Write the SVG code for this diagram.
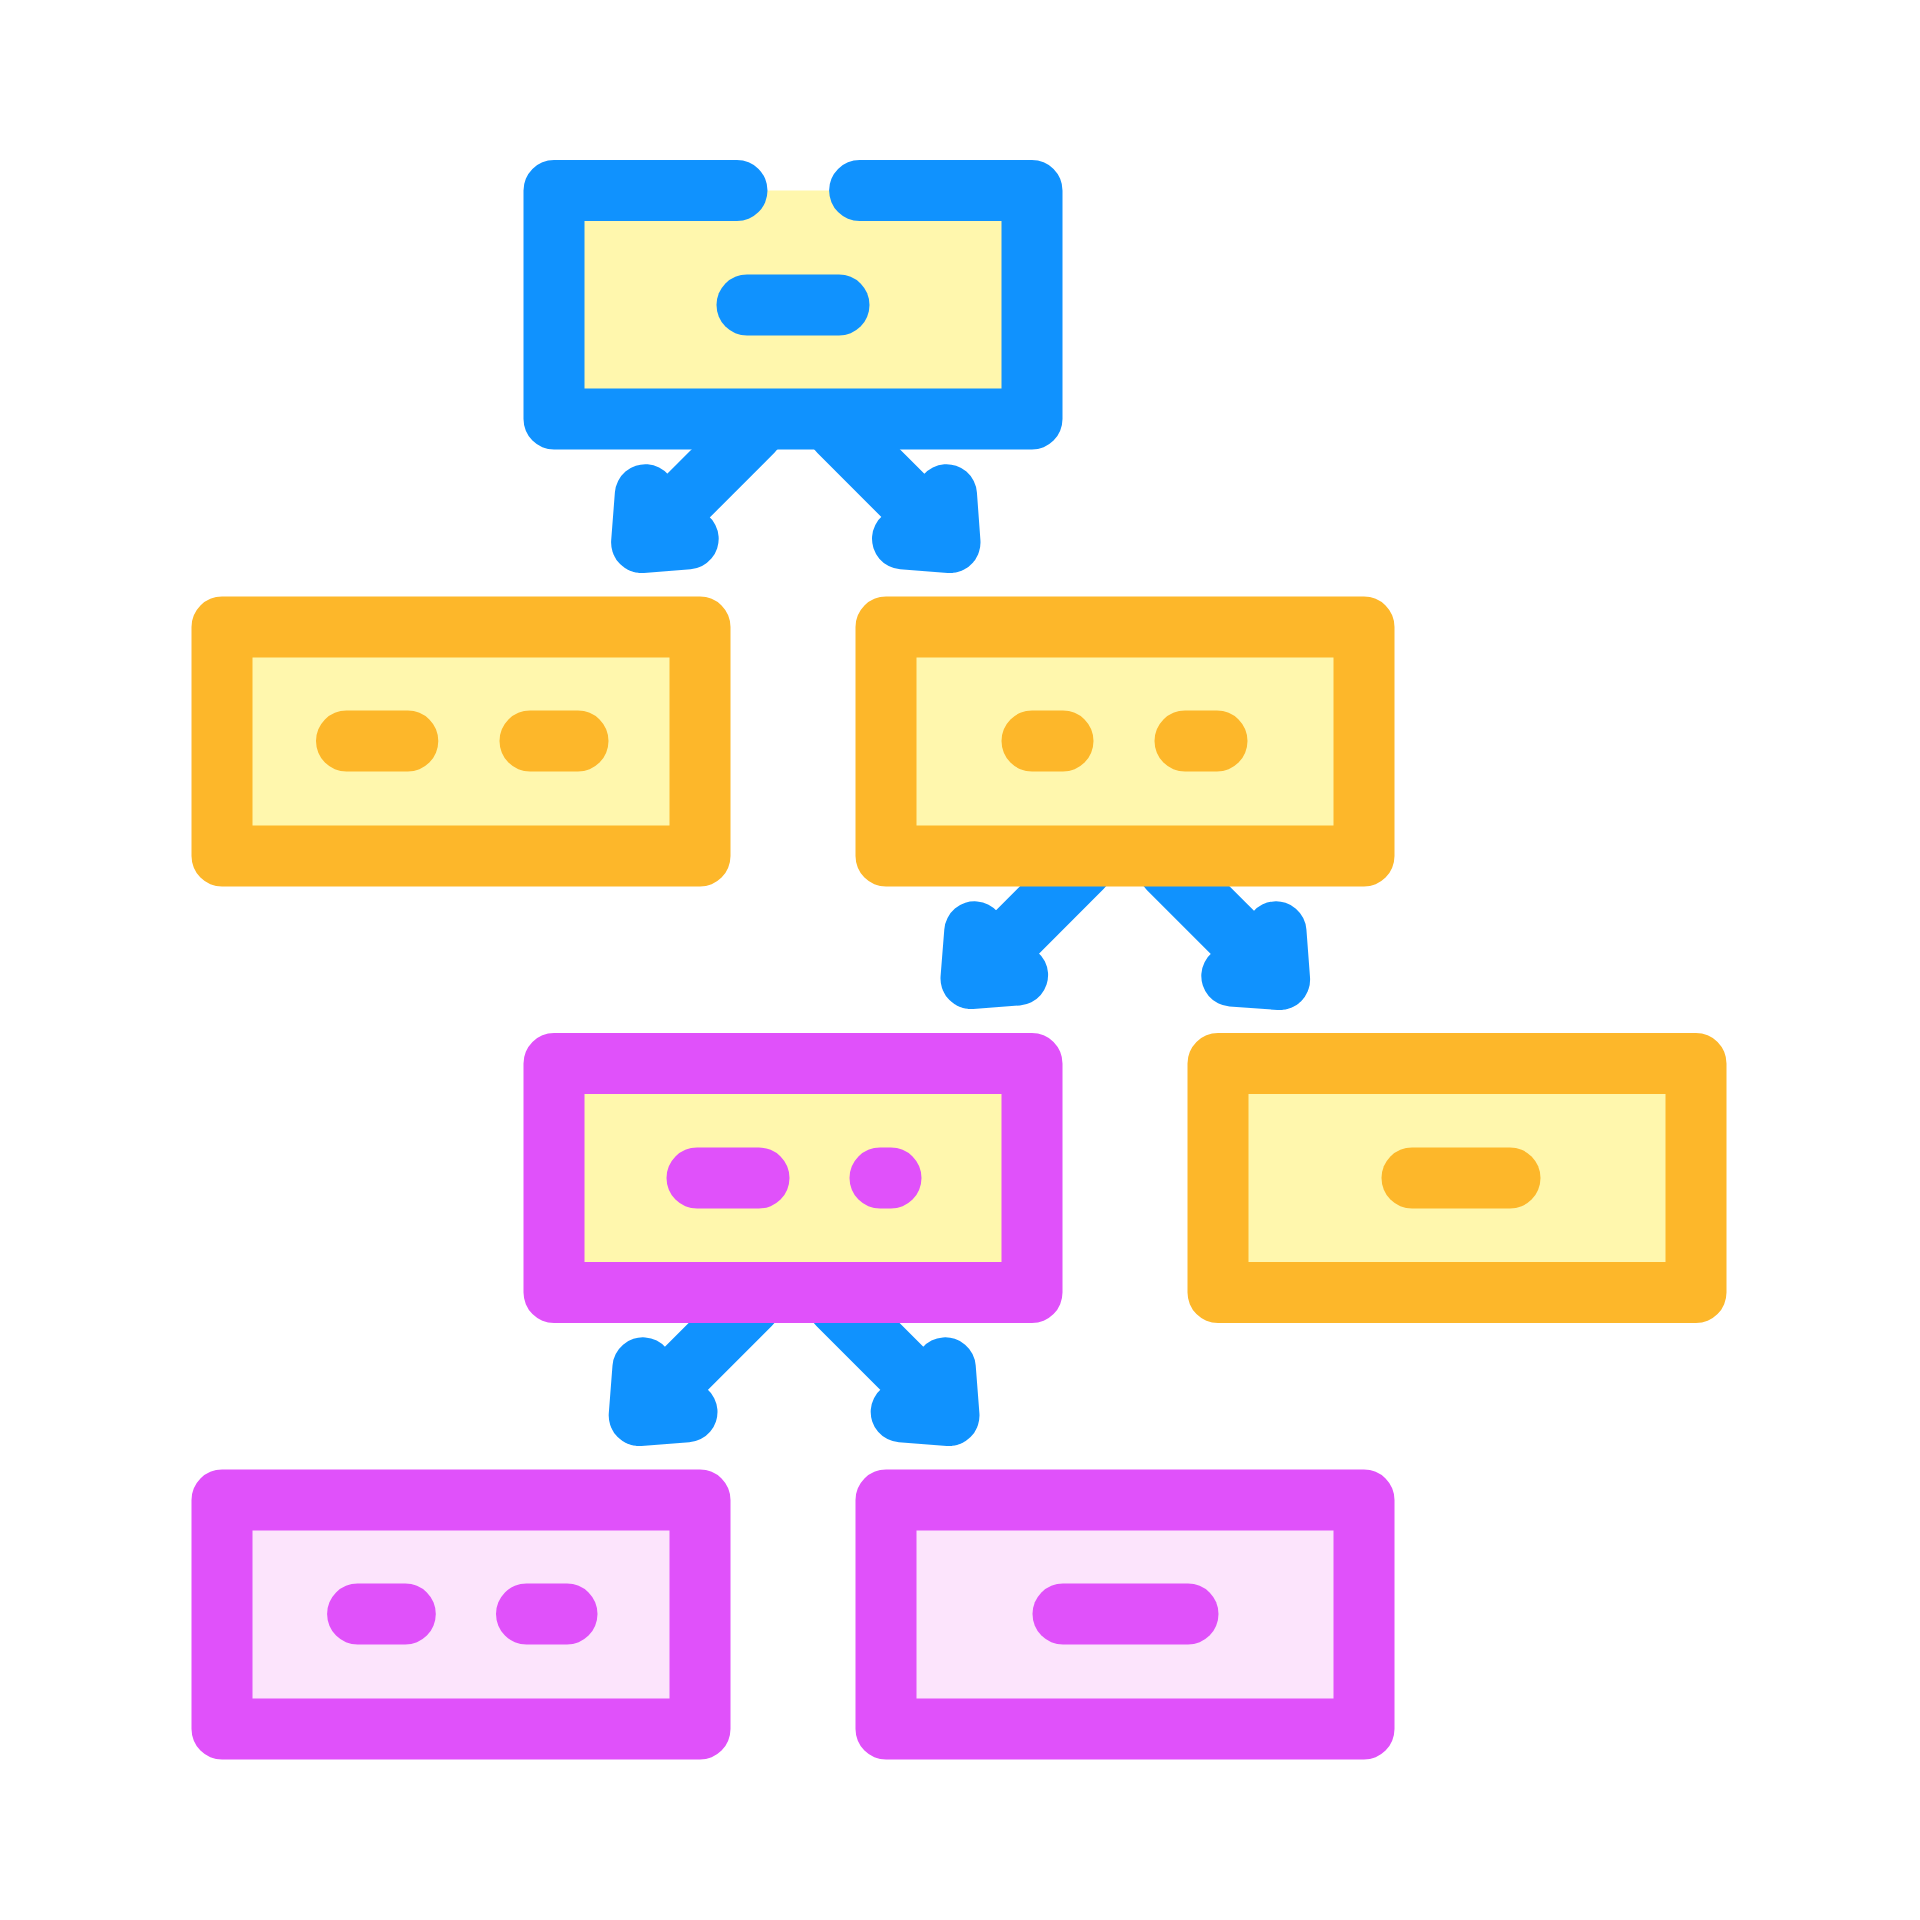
<svg xmlns="http://www.w3.org/2000/svg" width="1920" height="1920" viewBox="0 0 1920 1920">
<style>
.s{fill:none;stroke-width:61;stroke-linecap:round;stroke-linejoin:round}
.b{stroke:#1092FE}
.o{stroke:#FDB72A}
.m{stroke:#E051FA}
.fy{fill:#FFF7AD}
.fp{fill:#FCE4FC}
</style>
<rect width="1920" height="1920" fill="#FFFFFF"/>
<g id="connectors">
<path class="s b" d="M752.6,431.5 L641.6,542.5 M645.3,494.7 L641.6,542.5 L688.2,538.8"/>
<path class="s b" d="M839,431.5 L950,542.5 M946.5,494.7 L950,542.5 L902.5,538.8"/>
<path class="s b" d="M1082,867.5 L971,978.5 M974.7,931.8 L971,978.5 L1017.6,975"/>
<path class="s b" d="M1168.6,868.6 L1279.6,979.6 M1276,931.8 L1279.6,979.6 L1231.8,976"/>
<path class="s b" d="M750.2,1304.5 L639.2,1415.5 M642.9,1367.8 L639.2,1415.5 L687,1411.9"/>
<path class="s b" d="M838,1304.5 L949,1415.5 M945.3,1367.8 L949,1415.5 L901.2,1411.9"/>
</g>
<g id="node-top">
<rect class="fy" x="554" y="190.5" width="478" height="228.5"/>
<path class="s b" d="M737,190.5 H554 V419 H1032 V190.5 H859.6"/>
<path class="s b" d="M747,305 H839"/>
</g>
<g id="node-r2-left">
<rect class="fy" x="222" y="627" width="478" height="229"/>
<rect class="s o" x="222" y="627" width="478" height="229"/>
<path class="s o" d="M346.5,741 H407.8 M530,741 H578"/>
</g>
<g id="node-r2-right">
<rect class="fy" x="886" y="627" width="478" height="229"/>
<rect class="s o" x="886" y="627" width="478" height="229"/>
<path class="s o" d="M1032,741 H1063 M1185,741 H1217"/>
</g>
<g id="node-r3-left">
<rect class="fy" x="554" y="1063.5" width="478" height="229"/>
<rect class="s m" x="554" y="1063.5" width="478" height="229"/>
<path class="s m" d="M697,1178 H759 M880,1178 H891"/>
</g>
<g id="node-r3-right">
<rect class="fy" x="1218" y="1063.5" width="478" height="229"/>
<rect class="s o" x="1218" y="1063.5" width="478" height="229"/>
<path class="s o" d="M1412,1178 H1510"/>
</g>
<g id="node-r4-left">
<rect class="fp" x="222" y="1500" width="478" height="229"/>
<rect class="s m" x="222" y="1500" width="478" height="229"/>
<path class="s m" d="M357.6,1614 H405.3 M526.5,1614 H567"/>
</g>
<g id="node-r4-right">
<rect class="fp" x="886" y="1500" width="478" height="229"/>
<rect class="s m" x="886" y="1500" width="478" height="229"/>
<path class="s m" d="M1063,1614 H1188"/>
</g>
</svg>
